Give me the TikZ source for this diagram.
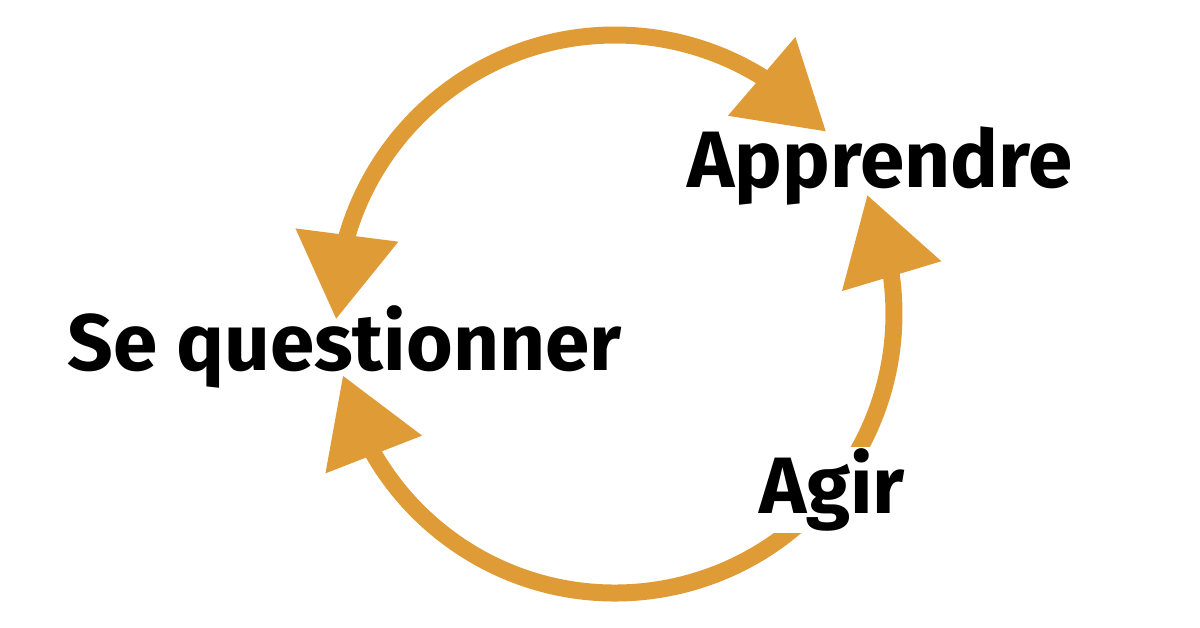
\documentclass[tikz,border=0pt]{standalone}
\usepackage{fontspec}
\setmainfont{Fira Sans}
\usetikzlibrary{arrows.meta,bending}
\begin{document}
\begin{tikzpicture}[x=1pt, y=1pt, line join=round]
  \definecolor{cycleorange}{RGB}{222,155,54}
  \tikzset{
    loop/.style={line width=17pt, cycleorange,
      arrows={-Triangle[length=85pt, width=99pt, flex]}},
    word/.style={font=\fontsize{80}{96}\selectfont\bfseries, anchor=base, inner sep=0pt}
  }
  \useasboundingbox (0,0) rectangle (1200,-628);
  \coordinate (O) at (615,-314);
  % ends of the three arcs
  \coordinate (q-top) at ([shift={(181.1:279)}]O);
  \coordinate (agir-end) at ([shift={(-35:279)}]O);
  \draw[loop, arrows={Triangle[length=85pt, width=99pt, flex]-Triangle[length=85pt, width=99pt, flex]}]
    (q-top) arc[start angle=181.1, end angle=40.8, radius=279];
  \draw[loop] (agir-end) arc[start angle=-35, end angle=25.3, radius=279];
  \draw[loop] (agir-end) arc[start angle=-35, end angle=-167.3, radius=279];
  \node[word] (apprendre) at (880,-187.3) {Apprendre};
  \node[word] (question) at (344.5,-370.7) {Se questionner};
  \node[word, fill=white, text height=66.6pt, text depth=19.4pt, inner xsep=8pt]
    (agir) at (832,-513.3) {Agir};
\end{tikzpicture}
\end{document}
